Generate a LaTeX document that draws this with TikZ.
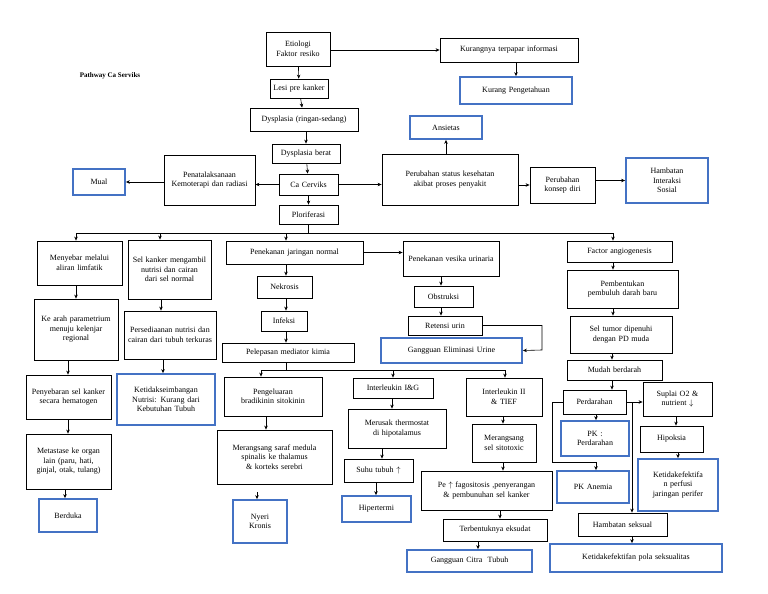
\documentclass[tikz,border=0pt]{standalone}
\usepackage{fontspec}
\setmainfont{Liberation Serif}
\usetikzlibrary{arrows.meta,calc}
\definecolor{bl}{RGB}{68,114,196}
\hyphenpenalty=10000 \exhyphenpenalty=10000
\newcommand\bx[7]{\node[#6,minimum width={#4pt-#2pt},minimum height={#5pt-#3pt},text width={#4pt-#2pt-7pt}] (#1) at ({(#2+#4)/2},{(#3+#5)/2}) {#7};}
\begin{document}
\begin{tikzpicture}[x=1pt,y=-1pt,
 every node/.style={font=\fontsize{8}{9.5}\selectfont,align=center,inner sep=0pt},
 k/.style={draw=black,line width=0.8pt},
 b/.style={draw=bl,line width=1.8pt},
 arr/.style={-{Stealth[length=4pt,width=3.5pt]},line width=0.6pt},
 ln/.style={line width=0.6pt}]
\useasboundingbox[fill=white] (0,0) rectangle (768,594);
\node[font=\bfseries\fontsize{7}{8}\selectfont] (title) at (110,76) {Pathway Ca Serviks};
\bx{eti}{266}{32}{330}{66}{k}{Etiologi\\Faktor resiko}
\bx{kur}{440}{38}{578}{62}{k}{Kurangnya terpapar informasi}
\bx{kp}{460}{77}{572}{104}{b}{Kurang Pengetahuan}
\bx{lesi}{270}{79}{328}{98}{k}{\makebox[0pt]{Lesi pre kanker}}
\bx{d1}{250}{108}{358}{131}{k}{Dysplasia (ringan-sedang)}
\bx{ans}{410}{116}{482}{139}{b}{Ansietas}
\bx{d2}{272}{144}{340}{163}{k}{Dysplasia berat}
\bx{pen}{164}{155}{255}{205}{k}{Penatalaksanaan Kemoterapi dan radiasi}
\bx{mual}{73}{169}{125}{195}{b}{Mual}
\bx{ca}{279}{174}{338}{195}{k}{Ca Cerviks}
\bx{ps}{382}{154}{518}{205}{k}{Perubahan status kesehatan akibat proses penyakit}
\bx{pk}{530}{167}{595}{203}{k}{Perubahan\\konsep diri}
\bx{hi}{626}{158}{708}{203}{b}{Hambatan\\Interaksi\\Sosial}
\bx{plo}{279}{205}{338}{224}{k}{Ploriferasi}
\bx{men}{37}{241}{122}{285}{k}{Menyebar melalui aliran limfatik}
\bx{sel}{128}{240}{211}{299}{k}{Sel kanker mengambil nutrisi dan cairan dari sel normal}
\bx{pj}{226}{241}{363}{264}{k}{Penekanan jaringan normal}
\bx{nek}{257}{276}{312}{298}{k}{Nekrosis}
\bx{inf}{261}{311}{307}{331}{k}{Infeksi}
\bx{pel}{222}{343}{354}{362}{k}{Pelepasan mediator kimia}
\bx{ke}{34}{299}{118}{360}{k}{Ke arah parametrium menuju kelenjar regional}
\bx{per}{124}{311}{216}{359}{k}{Persediaanan nutrisi dan cairan dari tubuh terkuras}
\bx{pny}{26}{375}{111}{419}{k}{Penyebaran sel kanker secara hematogen}
\bx{ktn}{117}{374}{215}{425}{b}{Ketidakseimbangan Nutrisi: Kurang dari Kebutuhan Tubuh}
\bx{peng}{224}{377}{322}{416}{k}{Pengeluaran bradikinin sitokinin}
\bx{mss}{217}{430}{332}{484}{k}{Merangsang saraf medula spinalis ke thalamus \& korteks serebri}
\bx{met}{26}{434}{111}{489}{k}{Metastase ke organ lain (paru, hati, ginjal, otak, tulang)}
\bx{ber}{39}{499}{97}{532}{b}{Berduka}
\bx{ny}{233}{500}{287}{543}{b}{Nyeri\\Kronis}
\bx{pv}{403}{241}{499}{276}{k}{Penekanan vesika urinaria}
\bx{obs}{414}{286}{473}{307}{k}{Obstruksi}
\bx{ret}{408}{316}{482}{335}{k}{Retensi urin}
\bx{ge}{381}{338}{522}{363}{b}{Gangguan Eliminasi Urine}
\bx{il}{353}{378}{433}{398}{k}{Interleukin I\&G}
\bx{mer}{348}{409}{446}{448}{k}{Merusak thermostat di hipotalamus}
\bx{suh}{344}{459}{413}{482}{k}{Suhu tubuh $\uparrow$}
\bx{hip}{342}{496}{411}{522}{b}{Hipertermi}
\bx{ilb}{466}{378}{542}{416}{k}{Interleukin II\\\& TIEF}
\bx{msel}{472}{424}{536}{462}{k}{Merangsang sel sitotoxic}
\bx{fag}{421}{471}{552}{510}{k}{Pe $\uparrow$ fagositosis ,penyerangan \& pembunuhan sel kanker}
\bx{eks}{443}{519}{547}{541}{k}{Terbentuknya eksudat}
\bx{gct}{407}{550}{532}{572}{b}{Gangguan Citra~~Tubuh}
\bx{fa}{567}{241}{672}{262}{k}{Factor angiogenesis}
\bx{pem}{567}{270}{678}{308}{k}{Pembentukan pembuluh darah baru}
\bx{st}{570}{316}{672}{353}{k}{Sel tumor dipenuhi dengan PD muda}
\bx{mud}{567}{360}{662}{380}{k}{Mudah berdarah}
\bx{pd}{563}{390}{626}{414}{k}{Perdarahan}
\bx{sup}{643}{382}{712}{416}{k}{Suplai O2 \&\\nutrient $\downarrow$}
\bx{pkp}{561}{421}{629}{456}{b}{PK :\\Perdarahan}
\bx{hpk}{640}{426}{703}{452}{k}{Hipoksia}
\bx{pka}{557}{471}{629}{503}{b}{PK Anemia}
\bx{kpj}{638}{459}{718}{511}{b}{Ketidakefektifa n perfusi jaringan perifer}
\bx{hs}{578}{513}{667}{536}{k}{Hambatan seksual}
\bx{kps}{550}{544}{722}{572}{b}{Ketidakefektifan pola seksualitas}
% top chain
\draw[arr] (eti) -- (lesi);
\draw[arr] (lesi) -- (d1);
\draw[arr] (d1.south -| d2.north) -- (d2);
\draw[arr] (d2) -- (ca);
\draw[arr] (ca) -- (plo);
\draw[arr] (eti.east |- kur.west) -- (kur.west);
\draw[arr] (kur.south -| kp.north) -- (kp.north);
\draw[arr] (ca.west) -- (pen.east |- ca.west);
\draw[arr] (pen.west |- mual.east) -- (mual.east);
\draw[arr] (ca) -- (ps.west |- ca);
\draw[arr] (ps.north -| ans.south) -- (ans.south);
\draw[arr] (ps.east |- pk.west) -- (pk.west);
\draw[arr] (pk.east |- hi.west) -- (hi.west);
% branch
\coordinate (br) at (plo.south |- 0,233);
\draw[ln] (plo) -- (br);
\draw[ln] (76,233) -- (613,233);
\draw[arr] (76,233) -- (men.north -| 76,0);
\draw[arr] (160,233) -- (sel.north -| 160,0);
\draw[arr] (286,233) -- (pj.north -| 286,0);
\draw[arr] (613,233) -- (fa.north -| 613,0);
% left columns
\draw[arr] (men.south -| 76,0) -- (ke.north -| 76,0);
\draw[arr] (ke.south -| 68,0) -- (pny.north -| 68,0);
\draw[arr] (pny.south -| 68,0) -- (met.north -| 68,0);
\draw[arr] (met.south -| 65,0) -- (ber.north -| 65,0);
\draw[arr] (sel.south -| 161,0) -- (per.north -| 161,0);
\draw[arr] (per.south -| 163,0) -- (ktn.north -| 163,0);
% middle
\draw[arr] (pj.south -| 286,0) -- (nek.north -| 286,0);
\draw[arr] (nek.south -| 286,0) -- (inf.north -| 286,0);
\draw[arr] (inf.south -| 286,0) -- (pel.north -| 286,0);
\draw[ln] (pel.south -| 286,0) -- (286,370);
\draw[ln] (261,370) -- (505,370);
\draw[arr] (261,370) -- (peng.north -| 261,0);
\draw[arr] (393,370) -- (il.north -| 393,0);
\draw[arr] (505,370) -- (ilb.north -| 505,0);
\draw[arr] (peng.south -| 266,0) -- (mss.north -| 266,0);
\draw[arr] (mss.south -| 257,0) ++(0,8) -- (ny.north -| 257,0);
\draw[arr] (pj.east) -- (pv.west |- pj.east);
\draw[arr] (pv.south -| 441,0) -- (obs.north -| 441,0);
\draw[arr] (obs.south -| 441,0) -- (ret.north -| 441,0);
\draw[arr] (ret.east) -- (542,325.5) -- (542,350) -- (ge.east);
\draw[arr] (il.south -| 392,0) -- (mer.north -| 392,0);
\draw[arr] (mer.south -| 382,0) -- (suh.north -| 382,0);
\draw[arr] (suh.south -| 376,0) -- (hip.north -| 376,0);
\draw[arr] (ilb.south -| 503,0) -- (msel.north -| 503,0);
\draw[arr] (msel.south -| 503,0) -- (fag.north -| 503,0);
\draw[arr] (fag.south -| 500,0) -- (eks.north -| 500,0);
\draw[arr] (eks.south -| 478,0) -- (gct.north -| 478,0);
% right
\draw[arr] (fa.south -| 613,0) -- (pem.north -| 613,0);
\draw[arr] (pem.south -| 613,0) -- (st.north -| 613,0);
\draw[arr] (st.south -| 612,0) -- (mud.north -| 612,0);
\draw[arr] (mud.south -| 612,0) -- (pd.north -| 612,0);
\draw[arr] (pd.south -| 596,0) -- (pkp.north -| 596,0);
\draw[arr] (pd.west) -- (552,402) -- (552,462) -- (596,462) -- (pka.north -| 596,0);
\draw[arr] (pd.east) -- (sup.west |- pd.east);
\draw[arr] (632,402) -- (hs.north -| 632,0);
\draw[arr] (sup.south -| 676,0) -- (hpk.north -| 676,0);
\draw[arr] (hpk.south -| 678,0) -- (kpj.north -| 678,0);
\draw[arr] (hs.south -| 632,0) -- (kps.north -| 632,0);
\end{tikzpicture}
\end{document}
